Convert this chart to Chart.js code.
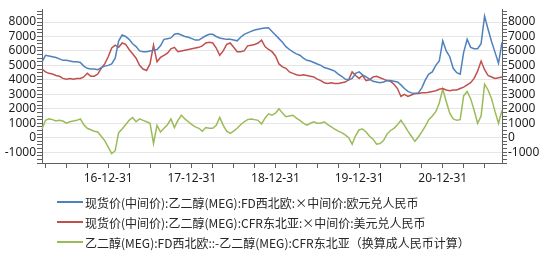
<!DOCTYPE html>
<html>
<head>
<meta charset="utf-8">
<script src="https://cdn.jsdelivr.net/npm/chart.js@4.4.1/dist/chart.umd.min.js"></script>
<style>
body{margin:0;background:#fff;}
#wrap{position:relative;width:550px;height:254px;}
#legend{position:absolute;left:57px;top:192px;font:12px 'Noto Sans CJK SC',sans-serif;color:#262626;}
.row{height:20px;display:flex;align-items:center;white-space:nowrap;}
.swatch{width:26px;height:2px;margin-right:2px;}
</style>
</head>
<body>
<div id="wrap"><canvas id="chart" width="550" height="254"></canvas><div id="legend"></div></div>
<script>
// semi-monthly dates, 16-03-15 .. 21-09-15
const dates = [
'16-03-15','16-03-31','16-04-15','16-04-30','16-05-15','16-05-31','16-06-15','16-06-30','16-07-15','16-07-31','16-08-15','16-08-31',
'16-09-15','16-09-30','16-10-15','16-10-31','16-11-15','16-11-30','16-12-15','16-12-31',
'17-01-15','17-01-31','17-02-15','17-02-28','17-03-15','17-03-31','17-04-15','17-04-30','17-05-15','17-05-31','17-06-15','17-06-30',
'17-07-15','17-07-31','17-08-15','17-08-31','17-09-15','17-09-30','17-10-15','17-10-31','17-11-15','17-11-30','17-12-15','17-12-31',
'18-01-15','18-01-31','18-02-15','18-02-28','18-03-15','18-03-31','18-04-15','18-04-30','18-05-15','18-05-31','18-06-15','18-06-30',
'18-07-15','18-07-31','18-08-15','18-08-31','18-09-15','18-09-30','18-10-15','18-10-31','18-11-15','18-11-30','18-12-15','18-12-31',
'19-01-15','19-01-31','19-02-15','19-02-28','19-03-15','19-03-31','19-04-15','19-04-30','19-05-15','19-05-31','19-06-15','19-06-30',
'19-07-15','19-07-31','19-08-15','19-08-31','19-09-15','19-09-30','19-10-15','19-10-31','19-11-15','19-11-30','19-12-15','19-12-31',
'20-01-15','20-01-31','20-02-15','20-02-29','20-03-15','20-03-31','20-04-15','20-04-30','20-05-15','20-05-31','20-06-15','20-06-30',
'20-07-15','20-07-31','20-08-15','20-08-31','20-09-15','20-09-30','20-10-15','20-10-31','20-11-15','20-11-30','20-12-15','20-12-31',
'21-01-15','21-01-31','21-02-15','21-02-28','21-03-15','21-03-31','21-04-15','21-04-30','21-05-15','21-05-31','21-06-15','21-06-30',
'21-07-15','21-07-31','21-08-15','21-08-31','21-09-15'
];

const fdNweRmb = [
5250,5700,5650,5600,5550,5450,5350,5350,5300,5250,5250,5200,4950,4800,4750,4750,4700,4850,4950,5000,
5100,5500,6700,7100,7000,6800,6500,6300,6000,5950,5950,6000,6050,6100,6350,6800,6850,6900,7150,7200,
7100,7000,6950,6850,6750,6750,6900,7050,7150,7150,7000,6900,6850,6800,6800,6750,6700,6950,7150,7250,
7350,7450,7500,7550,7580,7600,7350,7100,6850,6600,6300,6100,5930,5800,5700,5500,5350,5300,5200,5100,
5000,4850,4780,4700,4600,4400,4250,4050,4000,4100,4450,4550,4350,4200,4050,3900,3850,3800,3850,3950,
3950,3900,3850,3650,3400,3200,3100,3050,3100,3450,4000,4400,4550,5000,5300,6700,6000,5600,4800,4500,
4400,5900,6800,6250,6150,6150,6500,8400,7500,6650,5900,5150,6600
];

const cfrNeaRmb = [
4750,4550,4450,4400,4300,4250,4100,4050,4100,4050,4100,4100,4200,4450,4250,4250,4400,4800,5100,5600,
6200,6400,6250,6550,6450,6100,5800,5500,5000,4750,4650,5100,6400,5250,5550,5700,5850,6150,6250,5950,
6000,6050,6100,6150,6200,6250,6350,6550,6600,6550,6200,5700,6000,6450,6550,6250,5950,5950,6000,6350,
6400,6450,6550,6750,6300,6100,5950,5650,5100,4900,4800,4550,4450,4350,4300,4350,4300,4250,4200,4050,
3950,3800,3750,3800,3750,3750,3800,3850,4000,4550,4300,4100,4300,3950,4000,4200,4250,4150,4050,3950,
3900,3700,3400,2850,3000,2850,2950,3050,3050,3100,3100,3150,3200,3250,3350,3400,3300,3250,3300,3300,
3400,3500,3650,3800,4100,4600,5300,4700,4300,4200,4100,4150,4200
];

const spread = [
600,1200,1300,1250,1150,1200,1150,1000,1100,1150,1200,1300,900,650,550,450,400,100,-200,-650,
-1100,-900,350,600,900,1200,1400,1100,1300,1200,1100,1000,-400,850,400,650,900,1300,700,1200,
1550,1300,1100,900,750,650,450,700,650,650,850,1400,850,450,300,450,650,900,1100,1250,
1300,1250,1200,950,1350,1650,1550,1700,2000,1700,1450,1500,1550,1350,1200,1000,870,1000,1100,1000,
1000,1100,900,750,600,450,350,200,0,-450,150,550,600,400,100,-100,-450,-400,-200,250,
500,650,900,1200,850,450,100,-250,50,400,800,1250,1500,1800,2400,3350,2500,1700,1300,1200,
1250,2900,3200,2700,1900,1000,1500,3700,3300,2700,1800,1000,1900
];

const seriesNames = [
  '现货价(中间价):乙二醇(MEG):FD西北欧:×中间价:欧元兑人民币',
  '现货价(中间价):乙二醇(MEG):CFR东北亚:×中间价:美元兑人民币',
  '乙二醇(MEG):FD西北欧::-乙二醇(MEG):CFR东北亚（换算成人民币计算）'
];
const seriesColors = ['#4F81BD', '#C0504D', '#9BBB59'];
const seriesData = [fdNweRmb, cfrNeaRmb, spread];

const yMin = -1750, yMax = 8900;
const axisColor = '#606060';

function isQuarterEnd(lbl){
  return /-(03-31|06-30|09-30|12-31)$/.test(lbl);
}
function yearLabel(lbl){
  return /-12-31$/.test(lbl) ? lbl : '';
}
function isMajorY(v){
  return v % 1000 === 0 && v >= -1000 && v <= 8000;
}

Chart.defaults.font.family = "'Noto Sans', sans-serif";
Chart.defaults.font.size = 12;
Chart.defaults.color = '#1e1e1e';

const yAxis = (pos) => ({
  position: pos,
  min: yMin,
  max: yMax,
  border: {display: true, color: axisColor},
  grid: {
    drawOnChartArea: pos === 'left',
    color: ctx => isMajorY(ctx.tick.value) ? '#e6e6e6' : 'rgba(0,0,0,0)',
    tickColor: axisColor,
    tickLength: 5
  },
  ticks: {
    stepSize: 250,
    autoSkip: false,
    includeBounds: false,
    padding: 1,
    callback: v => isMajorY(v) ? String(v) : ''
  },
  afterFit: s => { s.width = pos === 'left' ? 42 : 48; }
});

const ctx = document.getElementById('chart').getContext('2d');
const myChart = new Chart(ctx, {
  type: 'line',
  data: {
    labels: dates,
    datasets: seriesData.map((d, i) => ({
      label: seriesNames[i],
      data: d,
      borderColor: seriesColors[i],
      backgroundColor: seriesColors[i],
      borderWidth: 1.5,
      pointRadius: 0,
      fill: false,
      tension: 0,
      yAxisID: 'y'
    }))
  },
  options: {
    responsive: false,
    animation: false,
    layout: {padding: {top: 9, bottom: 0, left: 0, right: 0}},
    plugins: {legend: {display: false}, tooltip: {enabled: false}},
    scales: {
      x: {
        border: {display: true, color: axisColor},
        grid: {
          drawOnChartArea: false,
          tickLength: 5,
          tickColor: c => isQuarterEnd(dates[c.index]) ? axisColor : 'rgba(0,0,0,0)'
        },
        ticks: {
          autoSkip: false,
          maxRotation: 0,
          minRotation: 0,
          padding: 3,
          callback: (v, i) => yearLabel(dates[i])
        },
        afterFit: s => { s.height = 91; }
      },
      y: yAxis('left'),
      y1: yAxis('right')
    }
  }
});

// legend below the plot
const legend = document.getElementById('legend');
seriesNames.forEach((name, i) => {
  const row = document.createElement('div');
  row.className = 'row';
  const sw = document.createElement('span');
  sw.className = 'swatch';
  sw.style.background = seriesColors[i];
  const txt = document.createElement('span');
  txt.textContent = name;
  row.appendChild(sw);
  row.appendChild(txt);
  legend.appendChild(row);
});
</script>
</body>
</html>
